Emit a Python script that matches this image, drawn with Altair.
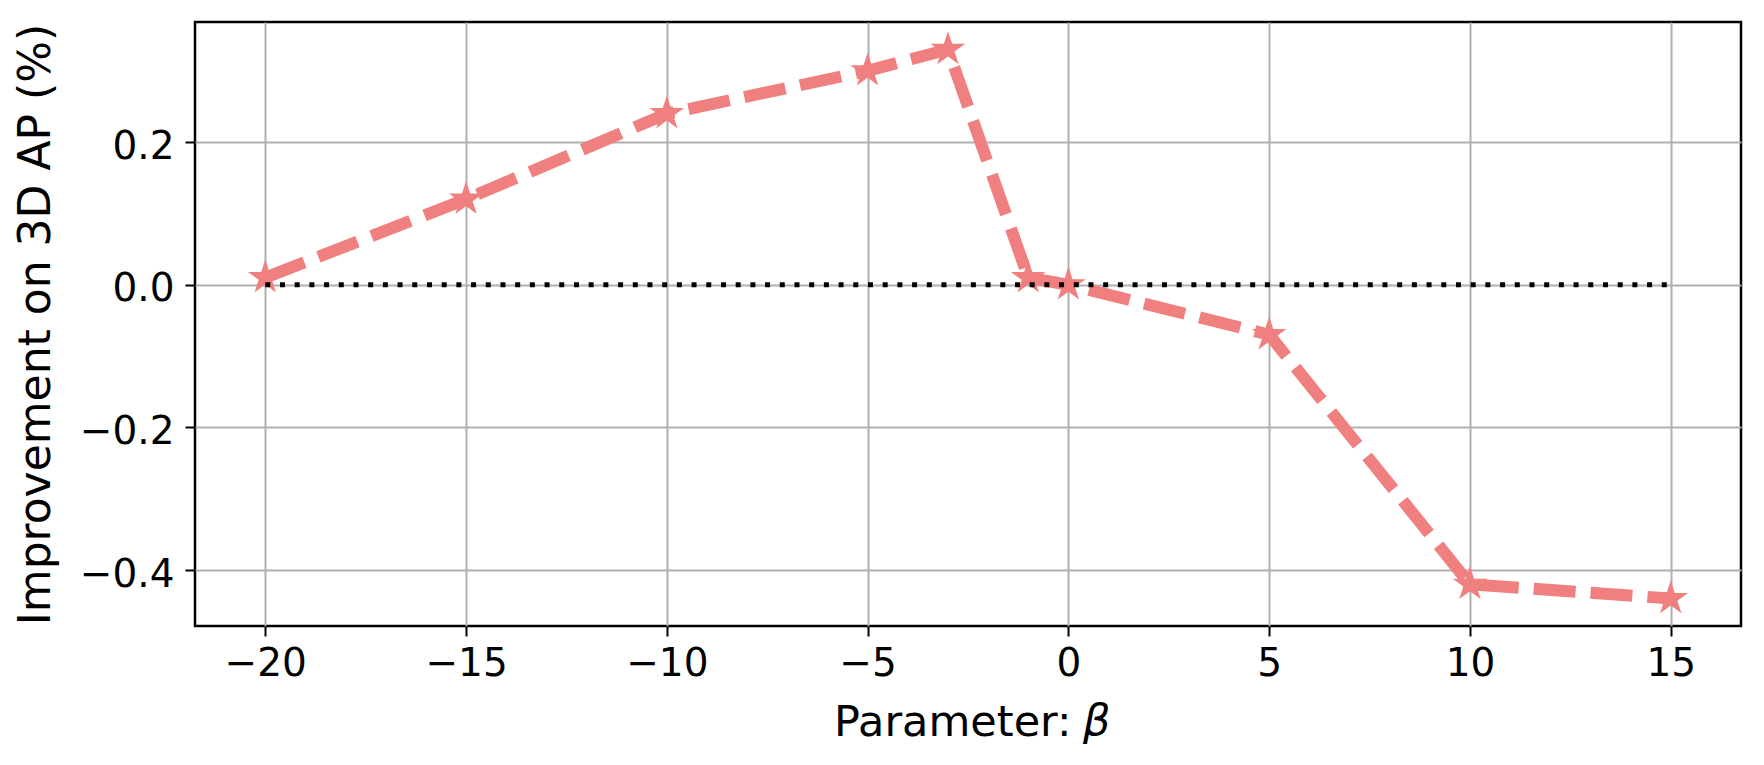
import altair as alt
import pandas as pd

# Data
beta = [-20, -15, -10, -5, -3, -1, 0, 5, 10, 15]
improvement = [0.01, 0.12, 0.24, 0.30, 0.33, 0.01, 0.0, -0.07, -0.42, -0.44]
ref_x = [-20, 15]
ref_y = [0.0, 0.0]
x_ticks = [-20, -15, -10, -5, 0, 5, 10, 15]
y_ticks = [-0.4, -0.2, 0.0, 0.2]

df = pd.DataFrame({"beta": beta, "imp": improvement})
ref = pd.DataFrame({"beta": ref_x, "imp": ref_y})

W, H = 1546, 604
FONT = "DejaVu Sans"
COLOR = "#F08080"
STAR = ("M0,-1L0.2245,-0.309L0.951,-0.309L0.363,0.118L0.588,0.809L0,0.382"
        "L-0.588,0.809L-0.363,0.118L-0.951,-0.309L-0.2245,-0.309Z")

xscale = alt.Scale(domain=[-21.75, 16.75], nice=False, zero=False)
yscale = alt.Scale(domain=[-0.4785, 0.3685], nice=False, zero=False)

xaxis = alt.Axis(values=x_ticks, format="d", title="Parameter:",
                 titleAlign="right", titleX=876, titleY=109,
                 titleBaseline="alphabetic", titleFont=FONT, titleFontSize=43,
                 titleFontWeight="normal", labelFont=FONT, labelFontSize=39,
                 labelPadding=8, tickSize=10, labelFlush=False)
yaxis = alt.Axis(values=y_ticks, format=".1f", title="Improvement on 3D AP (%)",
                 titleAngle=-90, titleAlign="center", titleX=-146, titleY=H / 2,
                 titleBaseline="alphabetic", titleFont=FONT, titleFontSize=44,
                 titleFontWeight="normal", labelFont=FONT, labelFontSize=39,
                 labelPadding=11, labelOffset=4, tickSize=10, labelFlush=False)

base = alt.Chart(df)

line = base.mark_line(color=COLOR, strokeWidth=12, strokeDash=[42, 15],
                      strokeCap="butt").encode(
    x=alt.X("beta:Q", scale=xscale, axis=xaxis),
    y=alt.Y("imp:Q", scale=yscale, axis=yaxis),
)

stars = base.mark_point(shape=STAR, filled=True, size=1330, opacity=1,
                        color=COLOR, strokeWidth=0).encode(
    x=alt.X("beta:Q", scale=xscale),
    y=alt.Y("imp:Q", scale=yscale),
)

dotted = alt.Chart(ref).mark_line(color="black", strokeWidth=5,
                                  strokeDash=[5, 9.7], strokeCap="butt").encode(
    x=alt.X("beta:Q", scale=xscale),
    y=alt.Y("imp:Q", scale=yscale),
)

beta_sym = alt.Chart(pd.DataFrame({"t": ["β"]})).mark_text(
    font=FONT, fontSize=43, fontStyle="italic", align="left",
    baseline="alphabetic", color="black").encode(
    text="t:N", x=alt.value(888), y=alt.value(H + 109))

chart = alt.layer(line, stars, dotted, beta_sym).properties(
    width=W, height=H,
    autosize=alt.AutoSizeParams(type="none"),
    padding={"left": 187, "top": 14, "right": 15, "bottom": 120},
).configure_view(
    stroke="black", strokeWidth=2.5
).configure_axis(
    grid=True, gridColor="#b0b0b0", gridWidth=2, gridOpacity=1,
    domain=False, tickColor="black", tickWidth=2,
    labelColor="black", titleColor="black",
)

chart.save("out.html", embed_options={"renderer": "svg", "actions": False})
